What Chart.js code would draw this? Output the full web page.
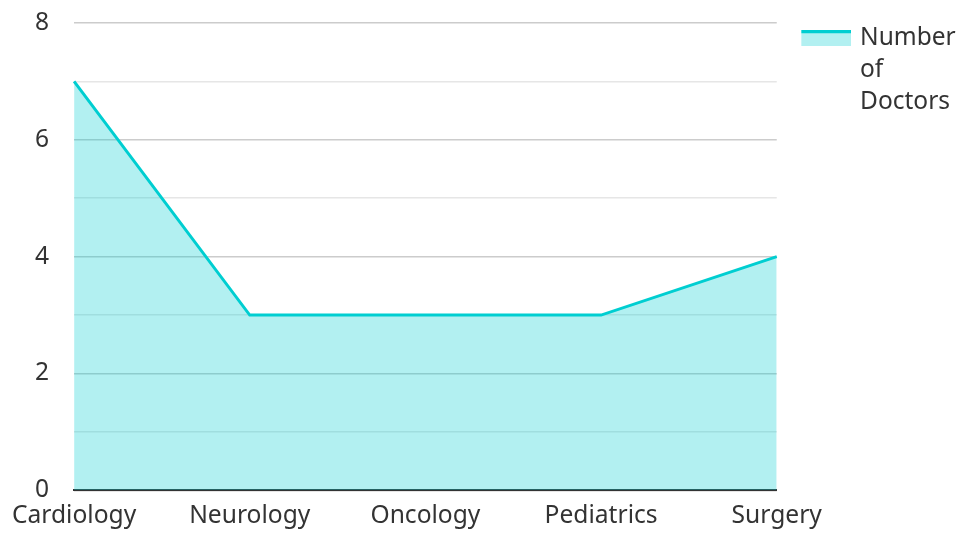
<!DOCTYPE html>
<html>
<head>
<meta charset="utf-8">
<script src="https://cdn.jsdelivr.net/npm/chart.js@4"></script>
<style>
html,body{margin:0;padding:0;background:#fff;}
#wrap{width:960px;height:533px;}
</style>
</head>
<body>
<div id="wrap"><canvas id="c" width="960" height="533"></canvas></div>
<script>
const categories = ['Cardiology', 'Neurology', 'Oncology', 'Pediatrics', 'Surgery'];
const doctors = [7, 3, 3, 3, 4];
const seriesLabel = ['Number', 'of', 'Doctors'];
const yTicks = [0, 2, 4, 6, 8];

const lineColor = 'rgb(0,206,209)';
const fillColor = 'rgba(0,206,209,0.3)';

// legend icon: thick top line + translucent fill (left part transparent spacer)
const icon = document.createElement('canvas');
icon.width = 64; icon.height = 16;
(function(){
  const g = icon.getContext('2d');
  g.fillStyle = fillColor; g.fillRect(14, 0, 50, 16);
  g.fillStyle = lineColor; g.fillRect(14, 0, 50, 3);
})();

Chart.defaults.font.family = '"Noto Sans", "Open Sans", sans-serif';
Chart.defaults.font.size = 24.6;
Chart.defaults.color = '#333';

new Chart(document.getElementById('c'), {
  type: 'line',
  data: {
    labels: categories,
    datasets: [{
      label: seriesLabel.join(' '),
      data: doctors,
      borderColor: lineColor,
      backgroundColor: fillColor,
      borderWidth: 3,
      fill: 'origin',
      tension: 0,
      pointRadius: 0,
      pointHoverRadius: 0
    }]
  },
  options: {
    responsive: false,
    animation: false,
    devicePixelRatio: 1,
    layout: { padding: { top: 0, right: 0, left: 10, bottom: 0 } },
    plugins: {
      tooltip: { enabled: false },
      legend: {
        position: 'right',
        align: 'start',
        title: { display: true, text: ' ', padding: 0, font: { size: 10, lineHeight: 1.2 } },
        labels: {
          usePointStyle: true,
          pointStyle: icon,
          pointStyleWidth: 57,
          boxWidth: 57,
          boxHeight: 16,
          padding: 14,
          font: { size: 24.5, lineHeight: 1.3 },
          generateLabels: (chart) => {
            const items = Chart.defaults.plugins.legend.labels.generateLabels(chart);
            items.forEach(it => { it.text = seriesLabel.slice(); it.pointStyle = icon; });
            return items;
          }
        }
      }
    },
    scales: {
      x: {
        offset: false,
        grid: { display: false },
        border: { display: true, color: '#333', width: 2 },
        ticks: { maxRotation: 0, autoSkip: false, padding: 8, font: { size: 24.6, lineHeight: 0.76 } }
      },
      y: {
        min: 0,
        max: 8,
        border: { display: false },
        grid: {
          color: (ctx) => (yTicks.includes(ctx.tick.value) ? '#cccccc' : '#e6e6e6'),
          lineWidth: 1.5,
          drawTicks: false
        },
        ticks: {
          stepSize: 1,
          padding: 25,
          callback: (v) => (yTicks.includes(v) ? String(v) : '')
        },
        afterFit: (scale) => { scale.paddingTop = 23; scale.paddingBottom = 0; }
      }
    }
  }
});
</script>
</body>
</html>
